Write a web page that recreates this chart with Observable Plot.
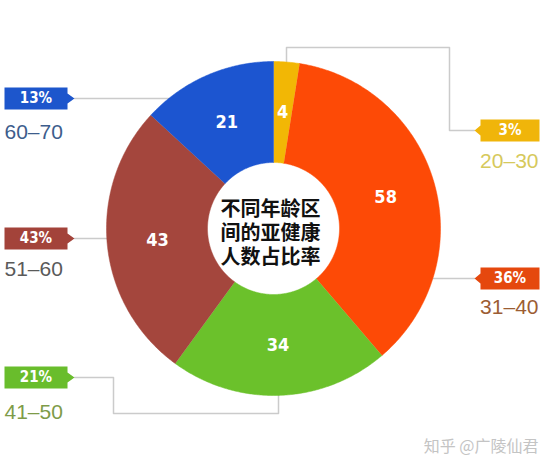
<!DOCTYPE html>
<html><head><meta charset="utf-8">
<script src="https://cdn.jsdelivr.net/npm/d3@7"></script>
<script src="https://cdn.jsdelivr.net/npm/@observablehq/plot@0.6"></script>
<style>body{margin:0;background:#fff}</style>
</head><body><div id="chart"></div>
<script>
// ---- data ----
const ages = ["20–30", "31–40", "41–50", "51–60", "60–70"];
const counts = [4, 58, 34, 43, 21];
const pctLabels = ["3%", "36%", "21%", "43%", "13%"];
const centerTitle = "不同年龄区\n间的亚健康\n人数占比率";
const watermark = "知乎 @广陵仙君";

// ---- styles ----
const sliceColors = ["#f2b705", "#fd4a06", "#6bc12b", "#a4463d", "#1c55d0"];
const boxColors   = ["#f0b50a", "#e5480e", "#69bd2c", "#a3433a", "#1d56cc"];
const rangeColors = ["#d6c95c", "#9c5d33", "#7e9b48", "#5a5a5a", "#3d5d8c"];

// ---- layout (pixels) ----
const W = 555, H = 469, cx = 273, cy = 228, R = 167, r = 66;
const X = p => (p - cx) / R, Y = p => (cy - p) / R;
const edgeX = (py, side) => cx + side * Math.sqrt(R * R - (cy - py) ** 2);
const edgeY = (px, side) => cy + side * Math.sqrt(R * R - (px - cx) ** 2);
const flagLayout = [
  {side: "right", x0: 480, x1: 539, tip: 474, yc: 130, ty: 161, path: [[474,130],[449,130],[449,47],[286,47],[286, edgeY(286,-1)]]},
  {side: "right", x0: 480, x1: 539, tip: 474, yc: 278, ty: 307, path: [[474,278],[edgeX(278,1),278]]},
  {side: "left",  x0: 4,   x1: 67,  tip: 74,  yc: 377, ty: 412, path: [[74,377],[113,377],[113,413],[278,413],[278, edgeY(278,1)]]},
  {side: "left",  x0: 4,   x1: 67,  tip: 74,  yc: 238, ty: 269, path: [[74,238],[edgeX(238,-1),238]]},
  {side: "left",  x0: 4,   x1: 67,  tip: 74,  yc: 98,  ty: 132, path: [[74,98],[edgeX(98,-1),98]]}
];

// ---- derived geometry ----
const pie = d3.pie().sort(null).startAngle(0).endAngle(2 * Math.PI)(counts);
const slicePts = [];
pie.forEach((p, i) => {
  const n = Math.max(4, Math.ceil((p.endAngle - p.startAngle) / (Math.PI / 360)));
  for (let k = 0; k <= n; k++) {
    const a = p.startAngle + (p.endAngle - p.startAngle) * k / n;
    slicePts.push({k: ages[i], x: Math.sin(a), y: Math.cos(a), c: sliceColors[i]});
  }
  for (let k = n; k >= 0; k--) {
    const a = p.startAngle + (p.endAngle - p.startAngle) * k / n;
    slicePts.push({k: ages[i], x: r / R * Math.sin(a), y: r / R * Math.cos(a), c: sliceColors[i]});
  }
});
const mid = (R + r) / 2 / R;
const valueLabels = pie.map((p, i) => {
  const a = (p.startAngle + p.endAngle) / 2;
  return {x: mid * Math.sin(a), y: mid * Math.cos(a), t: String(counts[i])};
});

const flagPts = [], linePts = [], flagText = [], rangeText = [];
flagLayout.forEach((f, i) => {
  const h = 11, th = 5;
  const pts = f.side === "left"
    ? [[f.x0,f.yc-h],[f.x1,f.yc-h],[f.x1,f.yc-th],[f.tip,f.yc],[f.x1,f.yc+th],[f.x1,f.yc+h],[f.x0,f.yc+h]]
    : [[f.x1,f.yc-h],[f.x0,f.yc-h],[f.x0,f.yc-th],[f.tip,f.yc],[f.x0,f.yc+th],[f.x0,f.yc+h],[f.x1,f.yc+h]];
  pts.forEach(([a, b]) => flagPts.push({k: i, x: X(a), y: Y(b), c: boxColors[i]}));
  f.path.forEach(([a, b]) => linePts.push({k: i, x: X(a), y: Y(b)}));
  flagText.push({x: X((f.x0 + f.x1) / 2), y: Y(f.yc), t: pctLabels[i]});
  rangeText.push({x: X(f.side === "left" ? f.x0 : 538), y: Y(f.ty), t: ages[i], c: rangeColors[i], anchor: f.side === "left" ? "start" : "end"});
});

const narrow = "'Liberation Sans Narrow', 'DejaVu Sans Condensed', 'Arial Narrow', sans-serif";

const chart = Plot.plot({
  width: W, height: H, margin: 0,
  x: {domain: [X(0), X(W)], axis: null},
  y: {domain: [Y(H), Y(0)], axis: null},
  color: {type: "identity"},
  style: {background: "white"},
  marks: [
    Plot.line(linePts, {x: "x", y: "y", z: "k", stroke: "#cbcbcb", strokeWidth: 1.5, curve: "linear"}),
    Plot.line(slicePts, {x: "x", y: "y", z: "k", fill: "c", stroke: "c", strokeWidth: 0.5, curve: "linear"}),
    Plot.line(flagPts, {x: "x", y: "y", z: "k", fill: "c", stroke: "none", curve: "linear"}),
    Plot.text(valueLabels, {x: "x", y: "y", text: "t", fill: "white", fontSize: 18, fontWeight: "bold", fontFamily: narrow}),
    Plot.text(flagText, {x: "x", y: "y", text: "t", fill: "white", fontSize: 15, fontWeight: "bold", fontFamily: narrow}),
    Plot.text(rangeText.filter(d => d.anchor === "start"), {x: "x", y: "y", text: "t", fill: "c", fontSize: 21, textAnchor: "start", fontFamily: "'Liberation Sans', Arial, sans-serif"}),
    Plot.text(rangeText.filter(d => d.anchor === "end"), {x: "x", y: "y", text: "t", fill: "c", fontSize: 21, textAnchor: "end", fontFamily: "'Liberation Sans', Arial, sans-serif"}),
    Plot.text([centerTitle], {x: X(270), y: Y(232), text: d => d, fill: "#111", fontSize: 20, fontWeight: "bold", lineHeight: 1.18, fontFamily: "'Noto Sans CJK SC', sans-serif"}),
    Plot.text([watermark], {x: X(538), y: Y(446), text: d => d, fill: "#c4c4c4", fontSize: 16, textAnchor: "end", fontFamily: "'Noto Sans CJK SC', sans-serif"})
  ]
});
document.getElementById("chart").appendChild(chart);
</script>
</body></html>
